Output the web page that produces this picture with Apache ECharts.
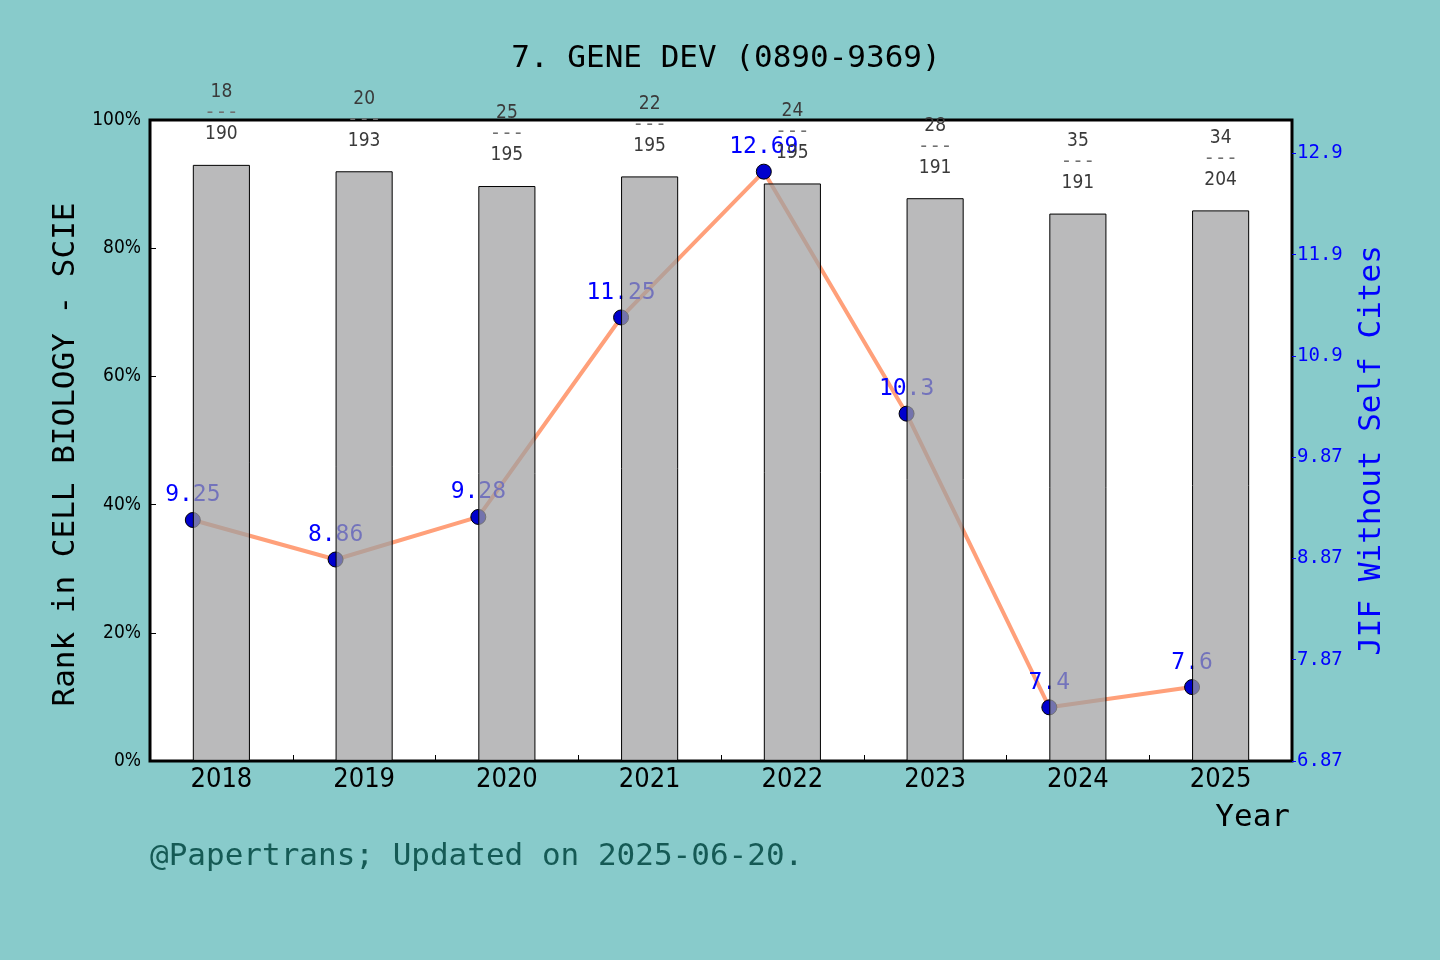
<!DOCTYPE html>
<html>
<head>
<meta charset="utf-8">
<script src="https://cdn.jsdelivr.net/npm/echarts@6/dist/echarts.min.js"></script>
<style>
html,body{margin:0;padding:0;background:#88CBCB;}
#c{width:1440px;height:960px;}
</style>
</head>
<body>
<div id="c"></div>
<script>
const years = ['2018','2019','2020','2021','2022','2023','2024','2025'];
const rankPercent = [93.0, 92.0, 89.7, 91.2, 90.1, 87.8, 85.4, 85.9];
const rankPos = [18, 20, 25, 22, 24, 28, 35, 34];
const rankTotal = [190, 193, 195, 195, 195, 191, 191, 204];
const jifNoSelf = [9.25, 8.86, 9.28, 11.25, 12.69, 10.3, 7.4, 7.6];
const leftTicks = [0, 20, 40, 60, 80, 100];
const rightTicks = [6.87, 7.87, 8.87, 9.87, 10.87, 11.87, 12.87];

const MONO = '"DejaVu Sans Mono", "Liberation Mono", monospace';
const SANS = '"DejaVu Sans Condensed", "DejaVu Sans", sans-serif';
const BAR_FRAC = 0.4;

const chart = echarts.init(document.getElementById('c'), null, {renderer: 'canvas'});
chart.setOption({
  backgroundColor: '#88CBCB',
  animation: false,
  title: {
    text: '7. GENE DEV (0890-9369)',
    left: 721, textAlign: 'center', top: 38,
    textStyle: {fontFamily: MONO, fontSize: 31, fontWeight: 'normal', color: '#000'}
  },
  grid: {
    left: 150, right: 148, top: 120, bottom: 199,
    show: true, backgroundColor: '#ffffff', borderColor: '#000', borderWidth: 3
  },
  xAxis: [{
    type: 'category', data: years,
    axisLine: {show: false, onZero: false},
    axisTick: {show: true, inside: true, length: 6, lineStyle: {color: '#000', width: 1}},
    axisLabel: {color: '#000', fontFamily: SANS, fontSize: 27, margin: 5},
    splitLine: {show: false}
  }, {
    type: 'value', min: -0.5, max: years.length - 0.5, show: false,
    axisLine: {onZero: false}
  }],
  yAxis: [{
    type: 'value', min: leftTicks[0], max: leftTicks[leftTicks.length - 1], interval: 20,
    position: 'left',
    name: 'Rank in CELL BIOLOGY - SCIE', nameLocation: 'middle', nameGap: 68,
    nameTextStyle: {fontFamily: MONO, fontSize: 31, color: '#000', padding: [0, 28, 0, 0]},
    axisLine: {show: false, onZero: false},
    axisTick: {show: true, inside: true, length: 6, lineStyle: {color: '#000'}},
    axisLabel: {color: '#000', fontFamily: SANS, fontSize: 19, margin: 9, formatter: '{value}%'},
    splitLine: {show: false}
  }, {
    type: 'value', min: 6.87, max: 13.2, position: 'right',
    name: 'JIF Without Self Cites', nameLocation: 'middle', nameGap: 64,
    nameTextStyle: {fontFamily: MONO, fontSize: 31, color: '#0000FF', padding: [0, 20, 0, 0]},
    axisLine: {show: false, onZero: false},
    axisTick: {show: true, inside: false, length: 4, customValues: rightTicks, lineStyle: {color: '#0000FF'}},
    axisLabel: {color: '#0000FF', fontFamily: MONO, fontSize: 19, margin: 5, customValues: rightTicks,
      formatter: v => Number(v).toPrecision(3)},
    splitLine: {show: false}
  }],
  graphic: [{
    type: 'text', left: 150, top: 841,
    style: {text: '@Papertrans; Updated on 2025-06-20.', font: '31px ' + MONO, fill: '#155a55'}
  }, {
    type: 'text', right: 150, top: 802,
    style: {text: 'Year', font: '31px ' + MONO, fill: '#000'}
  }],
  series: [{
    type: 'line', xAxisIndex: 1, yAxisIndex: 1, z: 2,
    data: jifNoSelf.map((v, i) => [i - BAR_FRAC / 2, v]),
    lineStyle: {color: '#FFA07A', width: 4},
    symbol: 'circle', symbolSize: 15,
    itemStyle: {color: '#0000CD', borderColor: '#000', borderWidth: 1},
    label: {show: true, position: 'top', distance: 5, color: '#0000FF', fontFamily: MONO, fontSize: 23,
      formatter: p => String(p.value[1])}
  }, {
    type: 'bar', xAxisIndex: 0, yAxisIndex: 0, z: 3,
    barWidth: (BAR_FRAC * 100) + '%',
    data: rankPercent,
    itemStyle: {color: 'rgba(159,160,161,0.72)', borderColor: '#000', borderWidth: 1},
    label: {show: true, position: 'top', distance: 20, color: '#3a3a3a', fontFamily: SANS,
      fontSize: 19, lineHeight: 21,
      formatter: p => rankPos[p.dataIndex] + '\n{d|---}\n' + rankTotal[p.dataIndex],
      rich: {d: {fontFamily: MONO, fontSize: 19, lineHeight: 21, color: '#707070'}}}
  }]
});
</script>
</body>
</html>
